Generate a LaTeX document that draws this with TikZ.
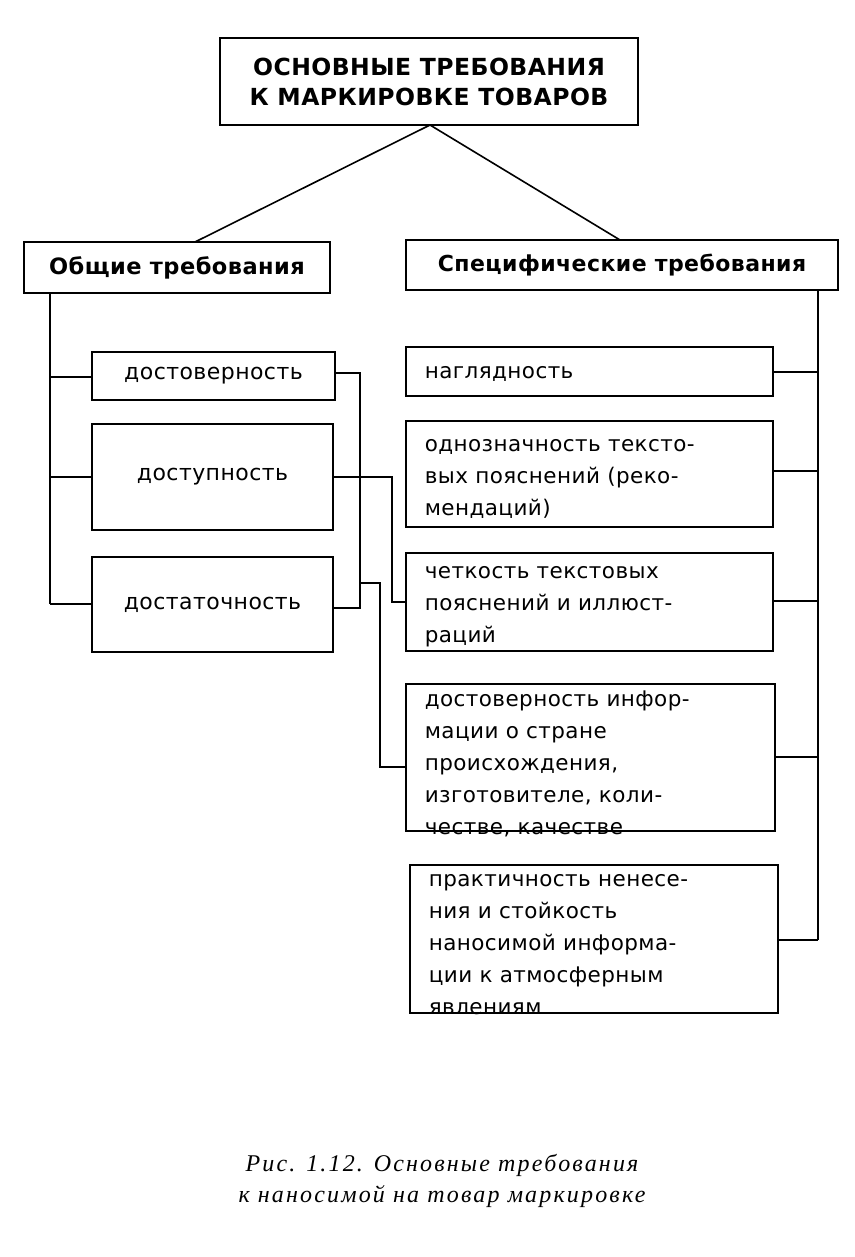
\documentclass[tikz,border=0pt]{standalone}
\usepackage{fontspec}
\setmainfont{DejaVu Sans}[LetterSpace=2]
\newfontfamily\capfont{Liberation Serif}[LetterSpace=9]
\begin{document}
\begin{tikzpicture}[x=1pt,y=-1pt,line width=1.6pt,
 bx/.style={draw,inner sep=0pt,font=\fontsize{22}{31}\selectfont},
 tx/.style={anchor=west,align=left,inner sep=0pt,font=\fontsize{21.5}{32}\selectfont}]
\useasboundingbox (0,0) rectangle (854,1257);
\node[bx,minimum width=418,minimum height=87,align=center,font=\bfseries\fontsize{23.5}{30}\selectfont] (t) at (429,81.5) {ОСНОВНЫЕ ТРЕБОВАНИЯ\\К МАРКИРОВКЕ ТОВАРОВ};
\node[bx,minimum width=306,minimum height=51,font=\bfseries\fontsize{22.5}{28}\selectfont] (g) at (177,267.5) {Общие требования};
\node[bx,minimum width=432,minimum height=50,font=\bfseries\fontsize{22}{28}\selectfont] (s) at (622,265) {Специфические требования};
\draw (430,125) -- (195,242) (430,125) -- (620,240);
% left boxes
\node[bx,minimum width=243,minimum height=48,font=\fontsize{22}{32}\selectfont] (l1) at (213.5,376) {достоверность};
\node[bx,minimum width=241,minimum height=106,font=\fontsize{22}{32}\selectfont] (l2) at (212.5,477) {доступность};
\node[bx,minimum width=241,minimum height=95,font=\fontsize{22}{32}\selectfont] (l3) at (212.5,604.5) {достаточность};
% right boxes
\node[bx,minimum width=367,minimum height=49] (r1) at (589.5,371.5) {};
\node[bx,minimum width=367,minimum height=106] (r2) at (589.5,474) {};
\node[bx,minimum width=367,minimum height=98] (r3) at (589.5,602) {};
\node[bx,minimum width=369,minimum height=147] (r4) at (590.5,757.5) {};
\node[bx,minimum width=368,minimum height=148] (r5) at (594,939) {};
\node[tx] (x1) at (424,374) {наглядность};
\node[tx] (x2) at (424,479) {однозначность тексто-\\вых пояснений (реко-\\мендаций)};
\node[tx] (x3) at (424,607) {четкость текстовых\\пояснений и иллюст-\\раций};
\node[tx] (x4) at (424,764) {достоверность инфор-\\мации о стране\\происхождения,\\изготовителе, коли-\\честве, качестве};
\node[tx] (x5) at (428,945) {практичность ненесе-\\ния и стойкость\\наносимой информа-\\ции к атмосферным\\явлениям};
% left tree
\draw (50,293) -- (50,604);
\draw (50,377) -- (l1.west |- 0,377);
\draw (50,477) -- (l2.west);
\draw (50,604) -- (l3.west |- 0,604);
% right tree
\draw (818,290) -- (818,940);
\draw (818,372) -- (r1.east |- 0,372);
\draw (818,471) -- (r2.east |- 0,471);
\draw (818,601) -- (r3.east |- 0,601);
\draw (818,757) -- (r4.east |- 0,757);
\draw (818,940) -- (r5.east |- 0,940);
% cross links
\draw[line width=1.3pt] (l1.east |- 0,373) -- (360,373) -- (360,608) -- (l3.east |- 0,608);
\draw[line width=1.3pt] (l2.east) -- (392,477) -- (392,602) -- (r3.west);
\draw[line width=1.3pt] (360,583) -- (380,583) -- (380,767) -- (r4.west |- 0,767);
\node[font=\capfont\itshape\fontsize{24}{31}\selectfont,align=center] (c) at (442,1181) {Рис. 1.12. Основные требования\\к наносимой на товар маркировке};
\end{tikzpicture}
\end{document}
